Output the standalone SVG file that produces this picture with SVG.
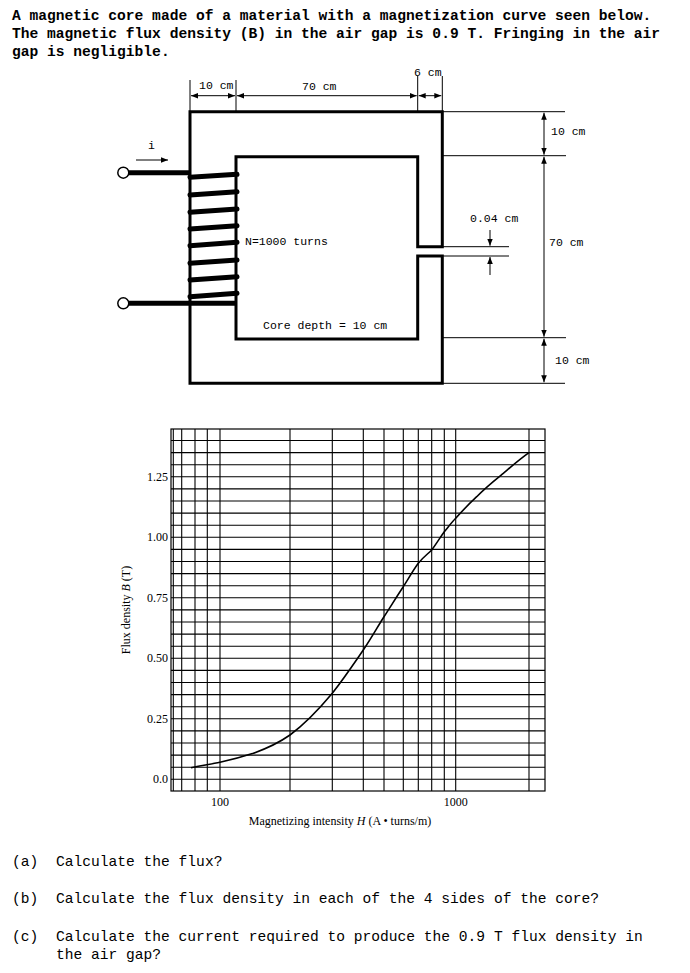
<svg xmlns="http://www.w3.org/2000/svg" width="690" height="973" viewBox="0 0 690 973">
<style>
.t{font-family:"Liberation Mono",monospace;font-size:14.6px;fill:#000}
.b{font-weight:bold}
.l{font-family:"Liberation Mono",monospace;font-size:11.5px;fill:#000}
.s{font-family:"Liberation Serif",serif;font-size:12px;fill:#000}
.core{fill:none;stroke:#000;stroke-width:3}
.dim{stroke:#000;stroke-width:1;fill:none}
.coil{stroke:#000;stroke-width:5;stroke-linecap:round}
.g{stroke:#000;stroke-width:1.1}
</style>
<defs>
<marker id="ah" viewBox="0 0 10 10" refX="10" refY="5" markerWidth="7" markerHeight="7" orient="auto-start-reverse" markerUnits="userSpaceOnUse"><path d="M0,1 L10,5 L0,9 z" fill="#000"/></marker>
</defs>
<rect width="690" height="973" fill="#fff"/>
<text class="t b" x="12" y="20">A magnetic core made of a material with a magnetization curve seen below.</text>
<text class="t b" x="12" y="38">The magnetic flux density (B) in the air gap is 0.9 T. Fringing in the air</text>
<text class="t b" x="12" y="56">gap is negligible.</text>

<g id="core">
<path class="core" d="M190,111.7 H442.3 V246.7 H417.7 V156.7 H236 V339 H417.7 V256 H442.3 V383.3 H190 Z"/>
</g>
<g id="coil">
<line class="dim" x1="123" y1="172.7" x2="190" y2="172.7" style="stroke-width:5"/>
<line class="dim" x1="123" y1="303.3" x2="236" y2="303.3" style="stroke-width:5"/>
<circle cx="123.3" cy="172.7" r="5.5" fill="#fff" stroke="#000" stroke-width="1.5"/>
<circle cx="123.3" cy="303.3" r="5.5" fill="#fff" stroke="#000" stroke-width="1.5"/>
<line class="coil" x1="190" y1="177.3" x2="237" y2="174.3"/>
<line class="coil" x1="190" y1="195" x2="237" y2="191.7"/>
<line class="coil" x1="190" y1="212.3" x2="237" y2="209"/>
<line class="coil" x1="190" y1="229" x2="237" y2="225.7"/>
<line class="coil" x1="190" y1="245.7" x2="237" y2="242.3"/>
<line class="coil" x1="190" y1="263.3" x2="237" y2="260"/>
<line class="coil" x1="190" y1="280" x2="237" y2="276.7"/>
<line class="coil" x1="190" y1="296.7" x2="237" y2="293.3"/>
<text class="l" x="148" y="149">i</text>
<line class="dim" x1="136" y1="160" x2="168" y2="160" marker-end="url(#ah)"/>
<text class="l" x="245" y="245">N=1000 turns</text>
<text class="l" x="263" y="329">Core depth = 10 cm</text>
</g>
<g id="connectors">
<line class="dim" x1="190" y1="80" x2="190" y2="111"/>
<line class="dim" x1="236" y1="80" x2="236" y2="111"/>
<line class="dim" x1="417.7" y1="76" x2="417.7" y2="111"/>
<line class="dim" x1="442.3" y1="76" x2="442.3" y2="111"/>
<line class="dim" x1="191" y1="95.7" x2="235" y2="95.7" marker-start="url(#ah)" marker-end="url(#ah)"/>
<line class="dim" x1="237" y1="95.7" x2="416.7" y2="95.7" marker-start="url(#ah)" marker-end="url(#ah)"/>
<line class="dim" x1="418.7" y1="95.7" x2="441.3" y2="95.7" marker-start="url(#ah)" marker-end="url(#ah)"/>
<text class="l" x="199" y="89">10 cm</text>
<text class="l" x="302" y="90">70 cm</text>
<text class="l" x="414" y="76">6 cm</text>
<line class="dim" x1="442" y1="111.7" x2="565" y2="111.7"/>
<line class="dim" x1="442" y1="155.7" x2="566" y2="155.7"/>
<line class="dim" x1="442" y1="337.7" x2="566" y2="337.7"/>
<line class="dim" x1="442" y1="383.3" x2="565" y2="383.3"/>
<line class="dim" x1="544" y1="112.7" x2="544" y2="154.7" marker-start="url(#ah)" marker-end="url(#ah)"/>
<line class="dim" x1="544" y1="156.7" x2="544" y2="336.7" marker-start="url(#ah)" marker-end="url(#ah)"/>
<line class="dim" x1="544" y1="338.7" x2="544" y2="382.3" marker-start="url(#ah)" marker-end="url(#ah)"/>
<text class="l" x="551" y="135">10 cm</text>
<text class="l" x="549" y="246">70 cm</text>
<text class="l" x="555" y="364">10 cm</text>
<line class="dim" x1="442" y1="246.7" x2="509" y2="246.7"/>
<line class="dim" x1="442" y1="256" x2="509" y2="256"/>
<line class="dim" x1="490" y1="230" x2="490" y2="245.7" marker-end="url(#ah)"/>
<line class="dim" x1="490" y1="275" x2="490" y2="257" marker-end="url(#ah)"/>
<text class="l" x="470" y="222">0.04 cm</text>
</g>

<g id="chart">
<rect x="171" y="429" width="374" height="362" fill="none" stroke="#000" stroke-width="1.2"/>
<g class="g">
<line x1="173.3" y1="429" x2="173.3" y2="791"/>
<line x1="181.7" y1="429" x2="181.7" y2="791"/>
<line x1="195" y1="429" x2="195" y2="791"/>
<line x1="207.3" y1="429" x2="207.3" y2="791"/>
<line x1="220" y1="429" x2="220" y2="791"/>
<line x1="290" y1="429" x2="290" y2="791"/>
<line x1="332.3" y1="429" x2="332.3" y2="791"/>
<line x1="363.3" y1="429" x2="363.3" y2="791"/>
<line x1="384" y1="429" x2="384" y2="791"/>
<line x1="403.3" y1="429" x2="403.3" y2="791"/>
<line x1="418.3" y1="429" x2="418.3" y2="791"/>
<line x1="431.7" y1="429" x2="431.7" y2="791"/>
<line x1="444.3" y1="429" x2="444.3" y2="791"/>
<line x1="455.7" y1="429" x2="455.7" y2="791"/>
<line x1="529" y1="429" x2="529" y2="791"/>
</g>
<path class="g" d="M171,779.3H545M171,767.2H545M171,755.1H545M171,743H545M171,730.9H545M171,718.8H545M171,706.7H545M171,694.6H545M171,682.5H545M171,670.4H545M171,658.3H545M171,646.2H545M171,634.1H545M171,622H545M171,609.9H545M171,597.8H545M171,585.7H545M171,573.6H545M171,561.5H545M171,549.4H545M171,537.3H545M171,525.2H545M171,513.1H545M171,501H545M171,488.9H545M171,476.8H545M171,464.7H545M171,452.6H545M171,440.5H545"/>
<path d="M191,767.7 C205,765 212,764 220,762.3 C235,759 245,756 253.3,753.3 C268,748 280,742 290,735 C305,724 320,708 332.3,693.3 C345,677 355,662 363.3,650 C372,637 378,626 384,616.7 C391,606 397,596 403.3,586.7 C410,576 414,569 418.3,563.3 C424,556 428,554 431.7,550 C437,543 441,536 444.3,531.7 C449,526 452,522 455.7,518.3 C463,510 470,503 476.7,496.7 C486,487 495,480 503.3,473.3 C512,466 520,459 529,452.7" fill="none" stroke="#000" stroke-width="1.6"/>
<g class="s" text-anchor="end">
<text x="168" y="480.5">1.25</text>
<text x="168" y="541">1.00</text>
<text x="168" y="601.5">0.75</text>
<text x="168" y="662">0.50</text>
<text x="168" y="722.5">0.25</text>
<text x="168" y="783">0.0</text>
</g>
<text class="s" x="220" y="806" text-anchor="middle">100</text>
<text class="s" x="455.7" y="806" text-anchor="middle">1000</text>
<text class="s" x="340" y="825" text-anchor="middle">Magnetizing intensity <tspan font-style="italic">H</tspan> (A • turns/m)</text>
<text class="s" transform="translate(130,610) rotate(-90)" text-anchor="middle">Flux density <tspan font-style="italic">B</tspan> (T)</text>
</g>

<text class="t" x="12" y="866">(a)</text>
<text class="t" x="56" y="866">Calculate the flux?</text>
<text class="t" x="12" y="903">(b)</text>
<text class="t" x="56" y="903">Calculate the flux density in each of the 4 sides of the core?</text>
<text class="t" x="12" y="941">(c)</text>
<text class="t" x="56" y="941">Calculate the current required to produce the 0.9 T flux density in</text>
<text class="t" x="56" y="959">the air gap?</text>
</svg>
